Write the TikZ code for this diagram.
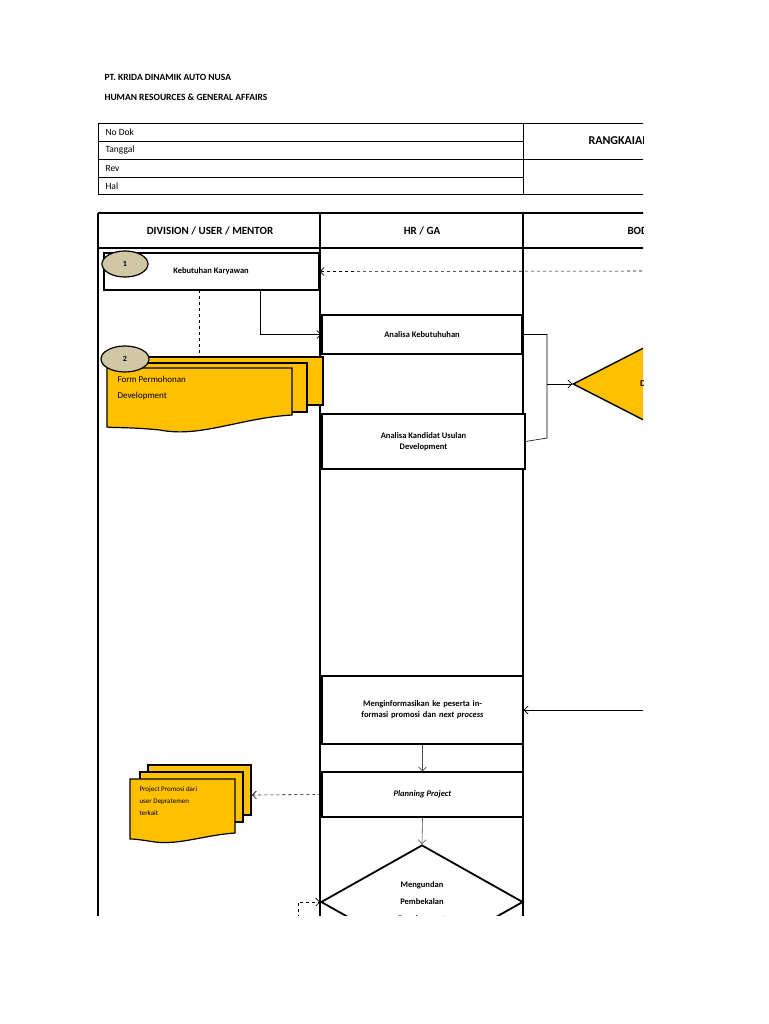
\documentclass[tikz,border=0pt]{standalone}
\usepackage{fontspec}
\setmainfont{Carlito}
\usetikzlibrary{arrows.meta,shapes.geometric}
\definecolor{gold}{HTML}{FFC000}
\definecolor{tan}{HTML}{D1C7A5}
\begin{document}
\begin{tikzpicture}[x=1pt,y=-1pt,
  box/.style={draw,line width=1.4pt,fill=white},
  lbl/.style={font=\bfseries\fontsize{8.5}{11}\selectfont,align=center},
  doc/.style={draw,line width=1.2pt,fill=gold},
  num/.style={draw,line width=1.2pt,fill=tan,ellipse},
  arr/.style={-{Straight Barb[length=4pt]},line width=0.6pt},
  darr/.style={-{Straight Barb[length=4pt]},line width=0.6pt,dashed}]
\useasboundingbox (0,0) rectangle (768,1024);
\node[anchor=west,font=\bfseries\fontsize{9.5}{11}\selectfont] (t1) at (101,77) {PT. KRIDA DINAMIK AUTO NUSA};
\node[anchor=west,font=\bfseries\fontsize{9.5}{11}\selectfont] (t2) at (101,97) {HUMAN RESOURCES \& GENERAL AFFAIRS};
\begin{scope}
\clip (0,0) rectangle (643,915);
% doc table
\draw[line width=0.8pt] (98,123) rectangle (700,194);
\foreach \y in {141,159,177} \draw[line width=0.8pt] (98,\y) -- (523,\y);
\draw[line width=0.8pt] (523,123) -- (523,194) (523,159) -- (700,159);
\node[anchor=west,font=\fontsize{9.5}{11}\selectfont] (r1) at (102,132) {No Dok};
\node[anchor=west,font=\fontsize{9.5}{11}\selectfont] (r2) at (102,150) {Tanggal};
\node[anchor=west,font=\fontsize{9.5}{11}\selectfont] (r3) at (102,168) {Rev};
\node[anchor=west,font=\fontsize{9.5}{11}\selectfont] (r4) at (102,186) {Hal};
\node[anchor=west,font=\bfseries\fontsize{12}{14}\selectfont] (ttl) at (585,141) {RANGKAIAN};
% swimlanes
\draw[line width=1.4pt] (98,213) -- (700,213) (98,248) -- (700,248);
\draw[line width=1.4pt] (98,213) -- (98,930) (320,213) -- (320,930) (523,213) -- (523,930);
\node[font=\bfseries\fontsize{11}{13}\selectfont] (h1) at (210,231) {DIVISION / USER / MENTOR};
\node[font=\bfseries\fontsize{11}{13}\selectfont] (h2) at (422,231) {HR / GA};
\node[anchor=west,font=\bfseries\fontsize{11}{13}\selectfont] (h3) at (624,231) {BOD};
% box 1
\node[box,minimum width=215pt,minimum height=37pt,inner sep=0] (b1) at (211.5,271.5) {};
\node[lbl] (b1t) at (211,271) {Kebutuhan Karyawan};
\node[num,minimum width=46pt,minimum height=26pt,font=\bfseries\fontsize{8}{10}\selectfont] (n1) at (125,264) {1};
\coordinate (rin) at (660,271);
\draw[darr] (rin) -- (b1.east);
% analisa kebutuhan
\node[box,minimum width=200pt,minimum height=39pt,lbl] (b2) at (422,334.5) {Analisa Kebutuhuhan};
\draw[arr] (260,290) |- (b2.west);
% form docs
\draw[dashed,line width=0.6pt] (199,290) -- (199,356);
\draw[doc] (120,357) rectangle (323,405);
\draw[doc] (113,363) rectangle (307,412);
\draw[doc] (107,368) -- (292,368) -- (292,415) .. controls (240,418) and (200,438) .. (160,430) .. controls (130,427) and (115,428) .. (107,427) -- cycle;
\node[anchor=north west,align=left,font=\fontsize{9}{15.5}\selectfont] (f1) at (114,373) {Form Permohonan\\Development};
\node[num,minimum width=48pt,minimum height=26pt,font=\bfseries\fontsize{8}{10}\selectfont] (n2) at (125,359) {2};
% kandidat
\node[box,minimum width=203pt,minimum height=55pt,lbl] (b3) at (423.5,441.5) {Analisa Kandidat Usulan\\Development};
\coordinate (br) at (547,384);
\draw[line width=0.6pt] (b2.east) -| (547,438) -- (b3.east);
\node[draw,line width=1.4pt,fill=gold,diamond,minimum width=140pt,minimum height=72pt,font=\bfseries\fontsize{9}{11}\selectfont] (d1) at (643,384) {D};
\draw[arr] (br) -- (d1.west);
% menginformasikan
\node[box,minimum width=201pt,minimum height=68pt,lbl,text width=180pt] (b4) at (422.5,710) {Menginformasikan ke peserta informasi promosi dan \textit{next process}};
\coordinate (rin2) at (660,710);
\draw[arr] (rin2) -- (b4.east);
\node[box,minimum width=201pt,minimum height=45pt,lbl,font=\bfseries\itshape\fontsize{8.5}{11}\selectfont] (b5) at (422.5,794.5) {Planning Project};
\draw[arr,gray!60!black] (b4.south) -- (b5.north);
% project docs
\draw[doc] (148,765) rectangle (251,815);
\draw[doc] (140,772) rectangle (243,822);
\draw[doc] (130,779) -- (235,779) -- (235,833) .. controls (205,835) and (180,845) .. (155,842) .. controls (142,840) and (136,839) .. (130,839) -- cycle;
\node[anchor=north west,align=left,font=\fontsize{7}{12}\selectfont] (p1) at (136,783) {Project Promosi dari\\user Depratemen\\terkait};
\draw[darr] (b5.west) -- (252,795);
% diamond 2
\node[draw,line width=1.8pt,fill=white,diamond,minimum width=202pt,minimum height=114pt,inner sep=0] (d2) at (422,902) {};
\node[font=\bfseries\fontsize{8.5}{17}\selectfont,align=center] (d2t) at (422,902) {Mengundan\\Pembekalan\\Development};
\draw[arr,gray!60!black] (b5.south) -- (d2.north);
\coordinate (dl) at (298,930);
\draw[darr] (dl) |- (d2.west);
\end{scope}
\end{tikzpicture}
\end{document}
